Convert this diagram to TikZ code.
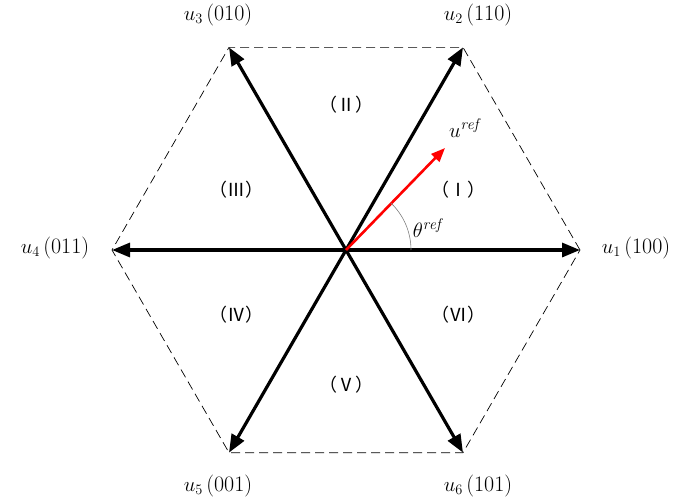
\documentclass[tikz,border=0pt]{standalone}
\usepackage{fontspec}
\newfontfamily\cjk{Noto Sans CJK SC}
\usetikzlibrary{arrows.meta,calc}
\begin{document}
\begin{tikzpicture}[x=1pt,y=-1pt,font=\fontsize{22}{26}\selectfont]
\tikzset{vec/.style={line width=3.2pt,-{Triangle[length=18pt,width=14pt]}}, % basic vectors
  hexedge/.style={dashed,line width=0.7pt,dash pattern=on 9pt off 5pt},
  sector/.style={font=\cjk\fontsize{18}{20}\selectfont}}
\useasboundingbox (0,0) rectangle (685,501);
\coordinate (O) at (346,250);
% hexagon corners
\foreach \i/\a in {1/0,2/60,3/120,4/180,5/240,6/300}
  \coordinate (V\i) at ($(O)+(\a:234 and -234)$);
\draw[hexedge] (V1)--(V2)--(V3)--(V4)--(V5)--(V6)--cycle;
\foreach \i in {1,...,6}
  \draw[vec] (O) -- (V\i);
\coordinate (R) at (445,148);
\draw[red,line width=2.6pt,-{Triangle[length=14pt,width=11pt]}] (O) -- (R);
\draw[gray,line width=0.6pt] (411,250) arc[start angle=0,end angle=-46,radius=65];
\node (uref) at (464,128) {$u^{\mathit{ref}}$};
\node (theta) at (427,228) {$\theta^{\mathit{ref}}$};
\node (l1) at (636,248) {$u_1\,$(100)};
\node (l2) at (478,15) {$u_2\,$(110)};
\node (l3) at (218,15) {$u_3\,$(010)};
\node (l4) at (55,248) {$u_4\,$(011)};
\node (l5) at (218,486) {$u_5\,$(001)};
\node (l6) at (478,486) {$u_6\,$(101)};
\node[sector] (s1) at (458,190) {（Ⅰ）};
\node[sector] (s2) at (346,105) {（Ⅱ）};
\node[sector] (s3) at (236,190) {（Ⅲ）};
\node[sector] (s4) at (236,315) {（Ⅳ）};
\node[sector] (s5) at (346,385) {（Ⅴ）};
\node[sector] (s6) at (458,315) {（Ⅵ）};
\end{tikzpicture}
\end{document}
